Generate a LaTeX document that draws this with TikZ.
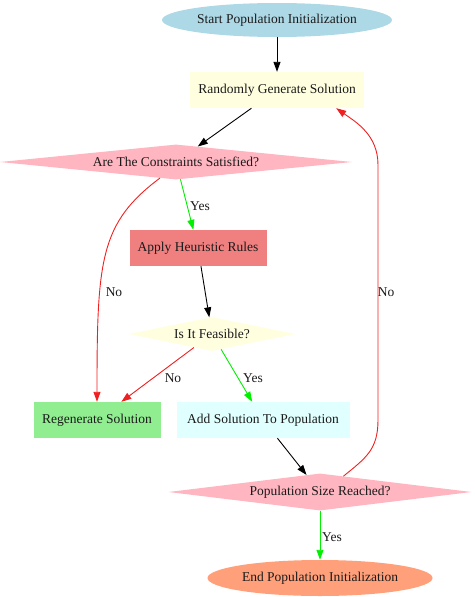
\documentclass[tikz,border=0pt]{standalone}
\usepackage{fontspec}
\setmainfont{Liberation Serif}
\usetikzlibrary{shapes.geometric,arrows.meta,calc}
\definecolor{cStart}{HTML}{ADD8E6}
\definecolor{cEnd}{HTML}{FFA07A}
\definecolor{cYellow}{HTML}{FFFFE0}
\definecolor{cPink}{HTML}{FFB6C1}
\definecolor{cCoral}{HTML}{F08080}
\definecolor{cGreen}{HTML}{90EE90}
\definecolor{cCyan}{HTML}{E0FFFF}
\definecolor{eRed}{HTML}{F02020}
\definecolor{eGreen}{HTML}{00F000}
\definecolor{txt}{HTML}{1A1A1A}
\begin{document}
\begin{tikzpicture}[x=1pt,y=-1pt,
  base/.style={inner sep=0pt, font=\fontsize{13.5}{15}\selectfont, text=txt},
  oval/.style={base, ellipse},
  box/.style={base, rectangle},
  decision/.style={base, diamond},
  edge/.style={line width=0.9pt, -{Triangle[length=10pt,width=7pt]}},
  lbl/.style={inner sep=0pt, font=\fontsize{13.5}{15}\selectfont, text=txt}]
\useasboundingbox (0,0) rectangle (474,597);
\node[oval, fill=cStart, minimum width=230pt, minimum height=34pt] (start) at (277,20) {Start Population Initialization};
\node[box, fill=cYellow, minimum width=174pt, minimum height=36pt] (random) at (277,90) {Randomly Generate Solution};
\node[decision, aspect=10, fill=cPink, minimum width=352pt, minimum height=35pt] (cons) at (176,162) {Are The Constraints Satisfied?};
\node[box, fill=cCoral, minimum width=137pt, minimum height=36pt] (apply) at (198,248) {Apply Heuristic Rules};
\node[decision, aspect=4.9, fill=cYellow, minimum width=167pt, minimum height=34pt] (feas) at (212,334) {Is It Feasible?};
\node[box, fill=cGreen, minimum width=127pt, minimum height=36pt] (regen) at (97,420) {Regenerate Solution};
\node[box, fill=cCyan, minimum width=173pt, minimum height=36pt] (add) at (263,420) {Add Solution To Population};
\node[decision, aspect=8.2, fill=cPink, minimum width=303pt, minimum height=37pt] (pop) at (320,492) {Population Size Reached?};
\node[oval, fill=cEnd, minimum width=225pt, minimum height=36pt] (end) at (320,578) {End Population Initialization};

\coordinate (rA) at (378,420);
\coordinate (rB) at (378,165);

\draw[edge] (start) -- (random);
\draw[edge] (random) -- (cons);
\draw[edge, eGreen] (cons) -- (apply);
\draw[edge, eRed] (cons.225) .. controls +(-60,45) and +(0,-142) .. (regen.north);
\draw[edge] (apply) -- (feas);
\draw[edge, eRed] (feas) -- (regen);
\draw[edge, eGreen] (feas) -- (add);
\draw[edge] (add) -- (pop);
\draw[edge, eRed] (pop.34) .. controls +(22,-18) and +(0,30) .. (rA) -- (rB) .. controls +(0,-30) and +(20,14) .. ($(random.south east)+(-28,0)$);
\draw[edge, eGreen] (pop) -- (end);

\node[lbl] (lYes1) at (200,206) {Yes};
\node[lbl] (lNo1) at (114,292) {No};
\node[lbl] (lNo2) at (173,378) {No};
\node[lbl] (lYes2) at (253,378) {Yes};
\node[lbl] (lNo3) at (386,292) {No};
\node[lbl] (lYes3) at (332,537) {Yes};
\end{tikzpicture}
\end{document}
